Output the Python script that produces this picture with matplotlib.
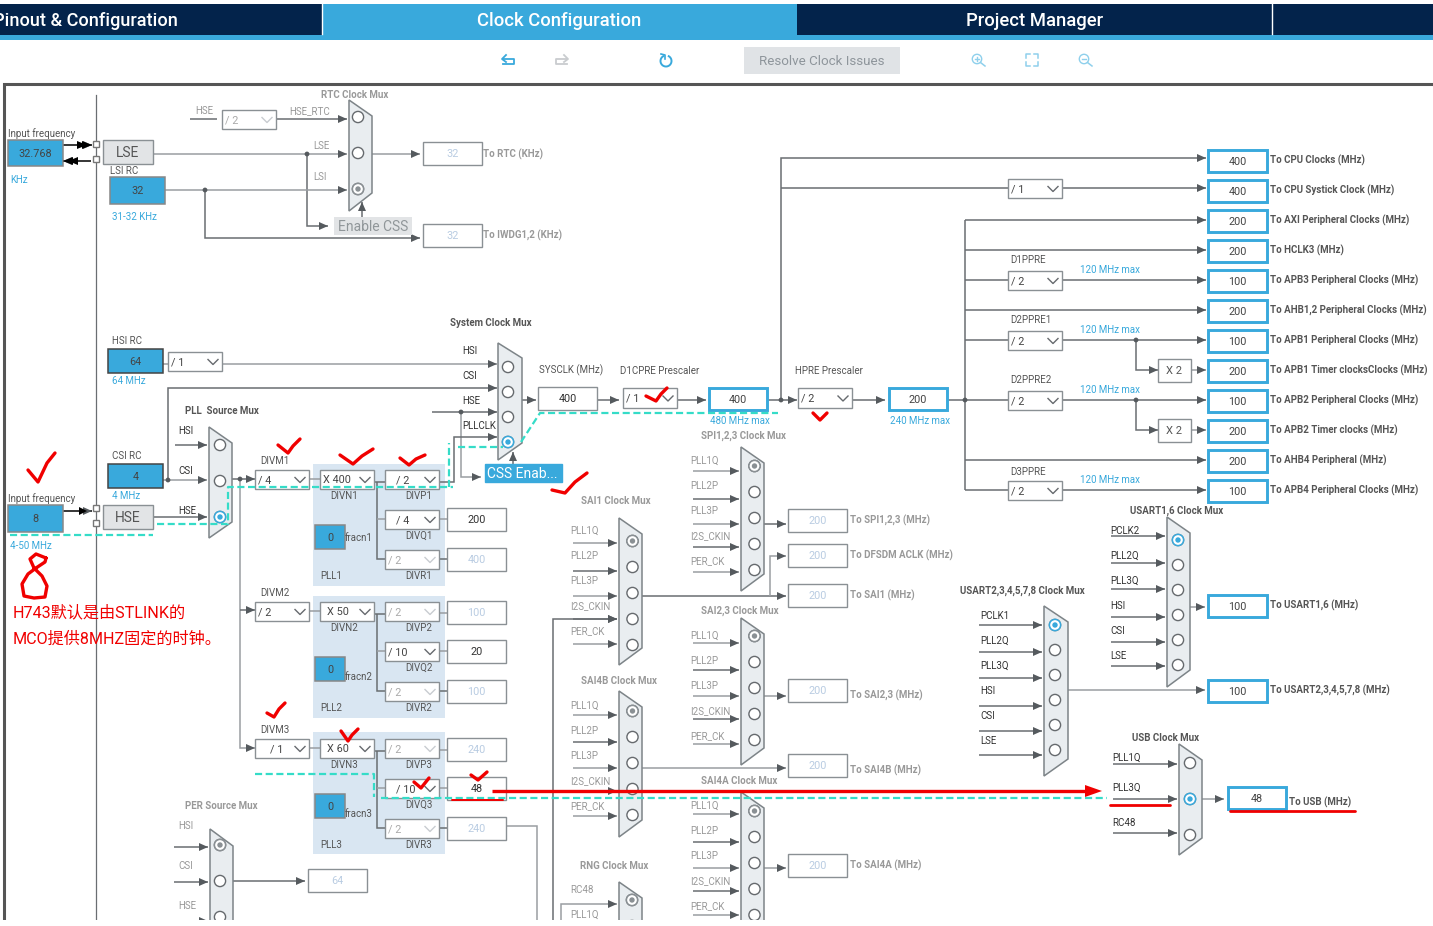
import matplotlib
matplotlib.use("Agg")
import matplotlib.pyplot as plt
from matplotlib.patches import Arc, Circle, Polygon, Rectangle

plt.rcParams["font.family"] = ["Roboto", "Noto Sans CJK SC", "DejaVu Sans"]

NAVY = "#03234b"
BLUE = "#39a9dc"
WIRE = "#6a6e72"
LIGHT_WIRE = "#9a9ea2"
HEAD = "#555a5e"
EDGE = "#8a9094"
TXT = "#555555"
DIM = "#999999"
FADED = "#b9cce2"
CYAN = "#35dcc8"
RED = "#f00000"
BOLD_FS = 7.05

tabs = ["Pinout & Configuration", "Clock Configuration", "Project Manager"]

# right hand clock tree
bus_values = [400, 400, 200, 200, 100, 200, 100, 200, 100, 200, 200, 100]
bus_labels = [
    "To CPU Clocks (MHz)", "To CPU Systick Clock (MHz)", "To AXI Peripheral Clocks (MHz)",
    "To HCLK3 (MHz)", "To APB3 Peripheral Clocks (MHz)", "To AHB1,2 Peripheral Clocks (MHz)",
    "To APB1 Peripheral Clocks (MHz)", "To APB1 Timer clocksClocks (MHz)",
    "To APB2 Peripheral Clocks (MHz)", "To APB2 Timer clocks (MHz)",
    "To AHB4 Peripheral (MHz)", "To APB4 Peripheral Clocks (MHz)",
]
ppre_names = ["D1PPRE", "D2PPRE1", "D2PPRE2", "D3PPRE"]

# PLL dividers, rows are PLL1, PLL2, PLL3
divm = ["/ 4", "/ 2", "/ 1"]
divn = ["X 400", "X 50", "X 60"]
divp = ["/ 2", "/ 2", "/ 2"]
divq = ["/ 4", "/ 10", "/ 10"]
divr = ["/ 2", "/ 2", "/ 2"]
pll_p_out = [None, 100, 240]
pll_q_out = [200, 20, 48]
pll_r_out = [400, 100, 240]

sai_inputs = ["PLL1Q", "PLL2P", "PLL3P", "I2S_CKIN", "PER_CK"]
usart16_inputs = ["PCLK2", "PLL2Q", "PLL3Q", "HSI", "CSI", "LSE"]
usart2_inputs = ["PCLK1", "PLL2Q", "PLL3Q", "HSI", "CSI", "LSE"]
usb_inputs = ["PLL1Q", "PLL3Q", "RC48"]
note_lines = ["H743默认是由STLINK的", "MCO提供8MHZ固定的时钟。"]

fig = plt.figure(figsize=(14.33, 9.26), dpi=100)
ax = fig.add_axes([0, 0, 1, 1])
ax.set_xlim(0, 1433)
ax.set_ylim(926, 0)
ax.axis("off")


def label(x, y, s, color=TXT, fs=7.0, ha="left", weight="normal", z=5):
    ax.text(x, y + 0.7, s, color=color, fontsize=fs, ha=ha, va="center", weight=weight, zorder=z)


def wire(pts, arrow=True, color=WIRE, lw=1.1):
    xs = [p[0] for p in pts]
    ys = [p[1] for p in pts]
    ax.plot(xs, ys, color=color, lw=lw, zorder=2, solid_capstyle="butt", solid_joinstyle="miter")
    if arrow:
        (x0, y0), (x1, y1) = pts[-2], pts[-1]
        dx = (x1 > x0) - (x1 < x0)
        dy = (y1 > y0) - (y1 < y0)
        head = [(x1, y1), (x1 - 9 * dx - 4 * dy, y1 - 9 * dy - 4 * dx),
                (x1 - 9 * dx + 4 * dy, y1 - 9 * dy + 4 * dx)]
        ax.add_patch(Polygon(head, fc=HEAD, ec="none", zorder=3))


def dot(x, y):
    ax.add_patch(Circle((x, y), 2.4, fc=HEAD, ec="none", zorder=3))


def rect(x0, y0, x1, y1, fc="white", ec=EDGE, lw=1.0, z=3):
    ax.add_patch(Rectangle((x0, y0), x1 - x0, y1 - y0, fc=fc, ec=ec, lw=lw, zorder=z))


def valbox(x0, y0, x1, y1, val, kind="on"):
    if kind == "blue":
        rect(x0, y0, x1, y1, ec=BLUE, lw=2.1)
        label((x0 + x1) / 2, (y0 + y1) / 2, str(val), "#444444", 7.8, "center")
    elif kind == "off":
        rect(x0, y0, x1, y1)
        label((x0 + x1) / 2, (y0 + y1) / 2, str(val), FADED, 7.8, "center")
    else:
        rect(x0, y0, x1, y1)
        label((x0 + x1) / 2, (y0 + y1) / 2, str(val), "#333333", 7.8, "center")


def inbox(x0, y0, x1, y1, val, ec="#888888"):
    rect(x0, y0, x1, y1, fc=BLUE, ec=ec, lw=1.1)
    label((x0 + x1) / 2, (y0 + y1) / 2, str(val), "#444444", 7.8, "center")


def dropdown(x0, y0, s, faded=False, tx=3, w=54, h=19):
    rect(x0, y0, x0 + w, y0 + h)
    label(x0 + tx, y0 + h / 2, s, "#aaaaaa" if faded else "#444444", 7.8)
    c = "#c8ccd0" if faded else "#666a6e"
    cx, cy = x0 + w - 9, y0 + h / 2 + 1
    ax.plot([cx - 5, cx, cx + 5], [cy - 3, cy + 2, cy - 3], color=c, lw=1.0, zorder=4)


def mux(xl, xr, ytop, yrt, yrb, ybot, cx, cys, sel, active=False):
    ax.add_patch(Polygon([(xl, ytop), (xr, yrt), (xr, yrb), (xl, ybot)],
                         fc="#e9edf0", ec="#7d8488", lw=1.1, zorder=3))
    for i, cy in enumerate(cys):
        ax.add_patch(Circle((cx, cy), 5.6, fc="white", ec="#666a6e", lw=1.0, zorder=4))
        if i == sel:
            c = BLUE if active else "#8a9094"
            ax.add_patch(Circle((cx, cy), 5.6, fc="white", ec=c, lw=1.1, zorder=4))
            ax.add_patch(Circle((cx, cy), 2.7, fc=c, ec="none", zorder=5))


def scribble(pts, lw=2.4, color=RED):
    ax.plot([p[0] for p in pts], [p[1] for p in pts], color=color, lw=lw, zorder=7,
            solid_capstyle="round", solid_joinstyle="round")


def dashed(pts):
    ax.plot([p[0] for p in pts], [p[1] for p in pts], color=CYAN, lw=1.6, zorder=6,
            dashes=(3.2, 1.6), solid_capstyle="butt")


# header
ax.add_patch(Rectangle((0, 4), 1433, 31, fc=NAVY, ec="none"))
ax.add_patch(Rectangle((323, 4), 474, 31, fc=BLUE, ec="none"))
ax.add_patch(Rectangle((0, 35), 1433, 5, fc=BLUE, ec="none"))
ax.plot([322.5, 322.5], [4, 34], color="white", lw=1)
ax.plot([1272.5, 1272.5], [4, 34], color="white", lw=1)
ax.text(178, 20.5, tabs[0], color="white", fontsize=13.1, ha="right", va="center", weight="medium")
ax.text(559.5, 20.5, tabs[1], color="white", fontsize=13.3, ha="center", va="center", weight="medium")
ax.text(1034.5, 20.5, tabs[2], color="white", fontsize=13.3, ha="center", va="center", weight="medium")

# toolbar
rect(744, 47, 900, 74, fc="#e0e3e6", ec="none", z=1)
label(822, 60.5, "Resolve Clock Issues", "#8e959b", 9.6, "center")
ax.plot([503, 514, 514, 503], [59, 59, 64, 64], color=BLUE, lw=1.3)
ax.plot([506, 502, 506], [55, 59, 62], color=BLUE, lw=1.3)
ax.plot([567, 556, 556, 567], [59, 59, 64, 64], color="#c9cccf", lw=1.3)
ax.plot([564, 568, 564], [55, 59, 62], color="#c9cccf", lw=1.3)
ax.add_patch(Arc((666, 61), 11, 11, theta1=-70, theta2=250, color=BLUE, lw=1.4))
ax.plot([661, 665, 665], [54, 55, 59], color=BLUE, lw=1.2)
for cx, sign in [(977, "+"), (1084, "-")]:
    ax.add_patch(Circle((cx, 59), 4.7, fc="none", ec="#8fd0ec", lw=1))
    ax.plot([cx + 3.5, cx + 8], [62.5, 66], color="#8fd0ec", lw=1.1)
    ax.plot([cx - 2, cx + 2], [59, 59], color="#8fd0ec", lw=1)
    if sign == "+":
        ax.plot([cx, cx], [57, 61], color="#8fd0ec", lw=1)
for sx, sy in [(-1, -1), (1, -1), (-1, 1), (1, 1)]:
    ax.plot([1032 + 6 * sx, 1032 + 6 * sx, 1032 + 2 * sx], [60 + 2 * sy, 60 + 6 * sy, 60 + 6 * sy],
            color="#8fd0ec", lw=1.1)

# frame
ax.plot([4, 4, 1433], [920, 84, 84], color="#555555", lw=2.2, zorder=1, solid_joinstyle="miter")
ax.plot([96.5, 96.5], [95, 920], color=WIRE, lw=0.9, zorder=1)

# LSE / LSI / RTC
label(8, 132.5, "Input frequency")
inbox(8, 140, 63, 166, "32.768")
label(10, 179.5, "KHz", BLUE)
for y, x0, x1 in [(145, 63, 92), (161, 91, 63)]:
    wire([(x0, y), (x1, y)], color="black")
    step = 5 if x1 > x0 else -5
    ax.add_patch(Polygon([(x1, y), (x1 - step * 2, y - 4), (x1 - step * 2, y + 4)], fc="black", ec="none", zorder=4))
    ax.add_patch(Polygon([(x1 - step, y), (x1 - step * 3, y - 4), (x1 - step * 3, y + 4)], fc="black", ec="none", zorder=4))
for y in [144, 159, 508, 523]:
    rect(93, y - 3, 99, y + 3, ec="#777777", z=4)
rect(103, 140, 153, 164, fc="#e2e4e6")
label(128, 152, "LSE", TXT, 10, "center")
label(110, 170, "LSI RC")
inbox(110, 177, 165, 204, 32)
label(112, 216.5, "31-32 KHz", BLUE)
label(321, 94, "RTC Clock Mux", DIM, BOLD_FS, weight="bold")
label(195, 110, "HSE", DIM)
label(289, 110, "HSE_RTC", DIM)
label(313, 145, "LSE", DIM)
label(313, 176, "LSI", DIM)
wire([(190, 119), (217, 119)], arrow=False)
dropdown(222, 110, "/ 2", faded=True, w=54)
wire([(276, 119), (347, 119)])
wire([(153, 154), (347, 154)], color=LIGHT_WIRE)
dot(307, 154)
wire([(307, 154), (307, 226), (328, 226)])
wire([(165, 190), (347, 190)], color=LIGHT_WIRE)
dot(205, 190)
wire([(205, 190), (205, 238), (420, 238)])
mux(349, 372, 100, 116, 193, 211, 358, [117, 153, 189], 2)
wire([(372, 154), (420, 154)], color=LIGHT_WIRE)
valbox(423, 142, 482, 165, 32, "off")
valbox(423, 224, 482, 247, 32, "off")
label(483, 154, "To RTC (KHz)", DIM, BOLD_FS, weight="bold")
label(483, 235, "To IWDG1,2 (KHz)", DIM, BOLD_FS, weight="bold")
rect(334, 217, 412, 235, fc="#e2e4e6", ec="none")
label(373, 226, "Enable CSS", "#909699", 10, "center")
wire([(362, 217), (362, 202)])

# HSI / CSI / HSE
label(112, 340, "HSI RC")
inbox(108, 349, 163, 373, 64, ec="#444444")
label(112, 380, "64 MHz", BLUE)
wire([(163, 364), (168, 364)], arrow=False, color=LIGHT_WIRE)
dropdown(168, 352, "/ 1")
wire([(222, 364), (497, 364)], color=LIGHT_WIRE)
label(112, 455, "CSI RC")
inbox(108, 464, 163, 488, 4, ec="#444444")
label(112, 495, "4 MHz", BLUE)
wire([(163, 480), (207, 480)], color=LIGHT_WIRE)
dot(168, 480)
wire([(168, 480), (168, 388), (497, 388)])
label(185, 410, "PLL  Source Mux", TXT, BOLD_FS, weight="bold")
label(178, 430, "HSI", "#333333")
label(178, 470, "CSI", "#333333")
label(178, 510, "HSE", "#333333")
wire([(175, 445), (207, 445)])
label(8, 498, "Input frequency")
inbox(8, 505, 63, 532, 8)
label(10, 545, "4-50 MHz", BLUE)
wire([(63, 511), (92, 511)], color="black")
ax.add_patch(Polygon([(87, 511), (79, 507), (79, 515)], fc="black", ec="none", zorder=4))
rect(103, 505, 153, 529, fc="#e2e4e6")
label(128, 517, "HSE", TXT, 10, "center")
wire([(153, 517), (207, 517)])
mux(209, 232, 427, 443, 522, 538, 220, [445, 481, 517], 2, active=True)
wire([(232, 479), (255, 479)])
dot(240, 479)
wire([(240, 479), (240, 748), (255, 748)], color=LIGHT_WIRE)
wire([(240, 610), (255, 610)])

# system clock mux
label(450, 322, "System Clock Mux", TXT, BOLD_FS, weight="bold")
label(462, 350, "HSI", "#333333")
label(462, 375, "CSI", "#333333")
label(462, 400, "HSE", "#333333")
label(462, 425, "PLLCLK", "#333333")
wire([(432, 412), (497, 412)])
dot(461, 412)
wire([(461, 412), (461, 477), (481, 477)], color=LIGHT_WIRE)
wire([(439, 482), (454, 482), (454, 437), (497, 437)])
mux(498, 522, 343, 358, 443, 460, 508, [367, 392, 417, 442], 3, active=True)
rect(485, 464, 562, 482, fc=BLUE, ec=BLUE)
label(487, 473, "CSS Enab...", "white", 10)
wire([(513, 464), (513, 452)])
wire([(522, 400), (536, 400)])

# sysclk row
label(539, 370, "SYSCLK (MHz)")
label(620, 370, "D1CPRE Prescaler")
label(795, 370, "HPRE Prescaler")
valbox(538, 387, 597, 410, bus_values[0])
wire([(597, 400), (619, 400)])
dropdown(623, 388, "/ 1", w=54, h=20)
wire([(677, 400), (706, 400)])
valbox(709, 388, 767, 410, bus_values[0], "blue")
label(710, 420, "480 MHz max", BLUE)
wire([(767, 400), (797, 400)])
dot(781, 400)
dropdown(798, 388, "/ 2", w=54, h=20)
wire([(852, 400), (885, 400)])
valbox(889, 388, 947, 410, bus_values[2], "blue")
label(890, 420, "240 MHz max", BLUE)
wire([(947, 400), (965, 400)], arrow=False)
dot(965, 400)

# outputs on the right
wire([(781, 400), (781, 158), (1206, 158)])
wire([(781, 188), (1008, 188)], arrow=False)
wire([(965, 220), (965, 490)], arrow=False)
for i in range(12):
    y = 161 + 30 * i
    valbox(1208, y - 11, 1267, y + 11, bus_values[i], "blue")
    label(1270, y - 1, bus_labels[i], TXT, BOLD_FS, weight="bold")
for y in [220, 250, 310, 460]:
    wire([(965, y), (1206, y)])
drop_rows = [(188, "/ 1"), (280, "/ 2"), (340, "/ 2"), (400, "/ 2"), (490, "/ 2")]
for y, s in drop_rows:
    if y != 188:
        wire([(965, y), (1008, y)], arrow=False)
    dropdown(1008, y - 9, s, w=54)
    wire([(1062, y), (1206, y)])
for (y, name) in zip([259, 319, 379, 471], ppre_names):
    label(1010, y, name)
for y in [269, 329, 389, 479]:
    label(1080, y, "120 MHz max", BLUE)
for y in [340, 400]:
    dot(1136, y)
    wire([(1136, y), (1136, y + 30), (1158, y + 30)])
    rect(1158, y + 19, 1191, y + 42)
    label(1174.5, y + 30.5, "X 2", TXT, 8, "center")
    wire([(1191, y + 30), (1206, y + 30)], color=LIGHT_WIRE)

# PLL blocks
for n, (top, bottom) in enumerate([(464, 586), (596, 718), (732, 854)]):
    rect(313, top, 445, bottom, fc="#d9e6f2", ec="none", z=1)
    r0 = top + 6 if n != 2 else top + 7
    wire([(309, r0 + 9), (320, r0 + 9)], arrow=False, color=LIGHT_WIRE)
    dropdown(255, r0, divm[n], tx=3 if n < 2 else 15)
    dropdown(320, r0, divn[n], tx=3 if n == 0 else 7)
    wire([(374, r0 + 12), (385, r0 + 12)], arrow=False)
    wire([(377, r0 + 12), (377, r0 + 89), (385, r0 + 89)], arrow=False)
    wire([(377, r0 + 49), (385, r0 + 49)], arrow=False, color=LIGHT_WIRE)
    dropdown(385, r0, divp[n], faded=n > 0, tx=11 if n == 0 else 3)
    dropdown(385, r0 + 40, divq[n], tx=11 if n != 1 else 3)
    dropdown(385, r0 + 80, divr[n], faded=True)
    label(260, r0 - 10, "DIVM%d" % (n + 1))
    label(330, r0 + 25, "DIVN%d" % (n + 1))
    label(405, r0 + 25, "DIVP%d" % (n + 1))
    label(405, r0 + 65, "DIVQ%d" % (n + 1))
    label(405, r0 + 105, "DIVR%d" % (n + 1))
    label(320, r0 + 105, "PLL%d" % (n + 1))
    inbox(315, r0 + 55, 345, r0 + 79, 0)
    label(345, r0 + (67 if n == 0 else 74), "fracn%d" % (n + 1))
    if pll_p_out[n] is not None:
        valbox(447, r0 - 1, 506, r0 + 22, pll_p_out[n], "off")
        wire([(439, r0 + 11), (447, r0 + 11)], arrow=False, color=LIGHT_WIRE)
    valbox(447, r0 + 38, 506, r0 + 61, pll_q_out[n])
    valbox(447, r0 + 78, 506, r0 + 101, pll_r_out[n], "off")
    wire([(439, r0 + 49), (447, r0 + 49)], arrow=False, color=LIGHT_WIRE)
    wire([(439, r0 + 89), (447, r0 + 89)], arrow=False)
wire([(506, 826), (537, 826), (537, 926)], arrow=False, color=LIGHT_WIRE)
wire([(553, 926), (553, 619), (617, 619)])

# PER source mux
label(185, 805, "PER Source Mux", DIM, BOLD_FS, weight="bold")
for y, s in [(825, "HSI"), (865, "CSI"), (905, "HSE")]:
    label(178, y, s, DIM)
for y in [847, 882, 921]:
    wire([(174, y), (208, y)])
mux(210, 233, 829, 846, 960, 980, 220, [845, 881, 917], 0)
wire([(233, 881), (305, 881)])
valbox(308, 869, 367, 892, 64, "off")


def sai_mux(xl, title, title_y, label_x, label_y0, wire_ys, circ_y0, ytop, ybot_right):
    label(label_x + 11, title_y, title, DIM, BOLD_FS, weight="bold")
    for i, s in enumerate(sai_inputs):
        label(label_x, label_y0 + 25 * i, s, DIM)
        wire([(label_x + 3, wire_ys[i]), (xl - 2, wire_ys[i])], color=WIRE if i % 2 else LIGHT_WIRE)
    mux(xl, xl + 23, ytop, ytop + 16, ybot_right, ybot_right + 17, xl + 13.5,
        [circ_y0 + 26 * i for i in range(5)], 0)


sai_mux(619, "SAI1 Clock Mux", 500, 570, 530, [543, 571, 596, 619, 644], 541, 518, 648)
sai_mux(741, "SPI1,2,3 Clock Mux", 435, 690, 460, [471, 499, 524, 547, 572], 466, 447, 574)
sai_mux(741, "SAI2,3 Clock Mux", 610, 690, 635, [643, 670, 696, 719, 744], 636, 618, 748)
sai_mux(619, "SAI4B Clock Mux", 680, 570, 705, [715, 742, 768, 791, 816], 711, 691, 820)
sai_mux(741, "SAI4A Clock Mux", 780, 690, 805, [814, 842, 868, 891, 915], 811, 792, 960)

label(580, 865, "RNG Clock Mux", DIM, BOLD_FS, weight="bold")
label(570, 889, "RC48", DIM)
label(570, 914, "PLL1Q", DIM)
wire([(561, 926), (561, 904), (617, 904)], color=LIGHT_WIRE)
mux(619, 642, 882, 898, 980, 1000, 632, [900, 926], 0)

# outputs of the muxes
wire([(764, 524), (786, 524)])
valbox(788, 509, 847, 532, 200, "off")
label(850, 520, "To SPI1,2,3 (MHz)", DIM, BOLD_FS, weight="bold")
wire([(642, 596), (786, 596)])
wire([(770, 596), (770, 556), (786, 556)], color=LIGHT_WIRE)
valbox(788, 544, 847, 567, 200, "off")
label(850, 555, "To DFSDM ACLK (MHz)", DIM, BOLD_FS, weight="bold")
valbox(788, 584, 847, 607, 200, "off")
label(850, 595, "To SAI1 (MHz)", DIM, BOLD_FS, weight="bold")
wire([(764, 696), (786, 696)], color=LIGHT_WIRE)
valbox(788, 679, 847, 702, 200, "off")
label(850, 695, "To SAI2,3 (MHz)", DIM, BOLD_FS, weight="bold")
wire([(642, 768), (786, 768)], color=LIGHT_WIRE)
valbox(788, 754, 847, 777, 200, "off")
label(850, 770, "To SAI4B (MHz)", DIM, BOLD_FS, weight="bold")
wire([(764, 868), (786, 868)], color=LIGHT_WIRE)
valbox(788, 854, 847, 877, 200, "off")
label(850, 865, "To SAI4A (MHz)", DIM, BOLD_FS, weight="bold")

# USART and USB muxes
label(1130, 510, "USART1,6 Clock Mux", TXT, BOLD_FS, weight="bold")
for i, s in enumerate(usart16_inputs):
    wy = [536, 563, 589, 617, 642, 666][i]
    label(1110, 530 + 25 * i, s, "#333333")
    wire([(1111, wy), (1165, wy)])
mux(1167, 1190, 517, 533, 670, 687, 1178, [540, 565, 590, 615, 640, 665], 0, active=True)
wire([(1190, 607), (1205, 607)], color=LIGHT_WIRE)
valbox(1208, 595, 1267, 617, 100, "blue")
label(1270, 605, "To USART1,6 (MHz)", TXT, BOLD_FS, weight="bold")

label(960, 590, "USART2,3,4,5,7,8 Clock Mux", TXT, BOLD_FS, weight="bold")
for i, s in enumerate(usart2_inputs):
    wy = [625, 652, 678, 706, 731, 755][i]
    label(980, 615 + 25 * i, s, "#333333")
    wire([(979, wy), (1042, wy)])
mux(1044, 1068, 606, 622, 759, 776, 1055, [625, 650, 675, 700, 725, 750], 0, active=True)
wire([(1068, 690), (1205, 690)], color=LIGHT_WIRE)
valbox(1208, 680, 1267, 702, 100, "blue")
label(1270, 690, "To USART2,3,4,5,7,8 (MHz)", TXT, BOLD_FS, weight="bold")

label(1132, 737, "USB Clock Mux", TXT, BOLD_FS, weight="bold")
for s, ly, wy in zip(usb_inputs, [757, 787, 822], [764, 799, 833]):
    label(1112, ly, s, "#333333")
    wire([(1113, wy), (1177, wy)])
mux(1179, 1202, 744, 760, 838, 855, 1190, [763, 799, 835], 1, active=True)
wire([(1202, 799), (1224, 799)], color=LIGHT_WIRE)
valbox(1228, 787, 1286, 809, 48, "blue")
label(1289, 802, "To USB (MHz)", TXT, BOLD_FS, weight="bold")

# cyan tracing of the clock path
dashed([(10, 535), (153, 535)])
dashed([(157, 524), (228, 524), (228, 487), (453, 487)])
dashed([(449, 487), (449, 443)])
dashed([(458, 447), (503, 447)])
dashed([(521, 442), (540, 413), (778, 413)])
dashed([(255, 774), (374, 774), (374, 797)])
dashed([(381, 798), (1107, 798)])

# red hand notes
checks = [
    [(28, 470), (38, 482), (47, 463), (55, 453)],
    [(278, 445), (288, 453), (293, 446), (300, 439)],
    [(340, 455), (353, 464), (362, 456), (373, 449)],
    [(400, 458), (409, 465), (416, 459), (425, 455)],
    [(552, 490), (565, 493), (575, 482), (587, 473)],
    [(646, 396), (656, 401), (661, 394), (667, 388)],
    [(813, 413), (820, 420), (827, 413)],
    [(267, 713), (274, 717), (279, 709), (285, 703)],
    [(341, 731), (348, 741), (352, 735), (358, 729)],
    [(414, 782), (421, 788), (425, 783), (429, 778)],
    [(471, 775), (478, 780), (487, 772)],
]
for c in checks:
    scribble(c)
scribble([(46, 558), (36, 554), (30, 559), (34, 568), (42, 576), (47, 586), (45, 597), (34, 598),
          (24, 596), (22, 584), (28, 574), (36, 568), (45, 562), (46, 558)])
for s, y in zip(note_lines, [612.5, 638.5]):
    ax.text(13, y, s, color=RED, fontsize=11.65, ha="left", va="center", zorder=7)
ax.plot([492, 1086], [791, 791], color=RED, lw=2.4, zorder=7, solid_capstyle="butt")
ax.add_patch(Polygon([(1085, 785), (1102, 791), (1085, 797)], fc=RED, ec="none", zorder=7))
scribble([(452, 800), (503, 800)], lw=1.4)
scribble([(1110, 805), (1170, 805)], lw=2)
scribble([(1230, 811), (1355, 811)], lw=2)

# the screenshot stops here
ax.add_patch(Rectangle((0, 920), 1433, 6, fc="white", ec="none", zorder=20))
ax.add_patch(Rectangle((0, 0), 1433, 4, fc="white", ec="none", zorder=20))

fig.savefig("out.png", dpi=100)
